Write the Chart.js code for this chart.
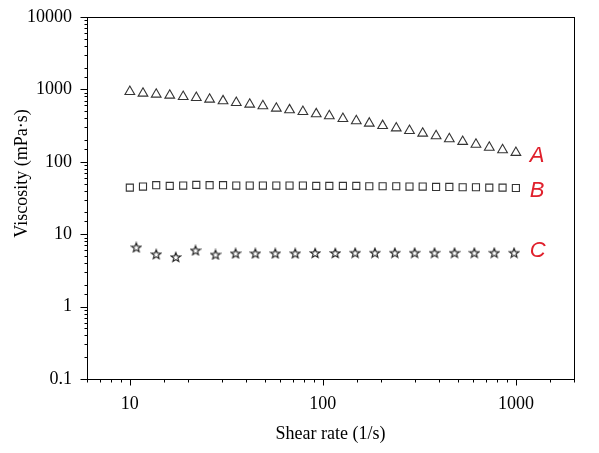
<!DOCTYPE html>
<html>
<head>
<meta charset="utf-8">
<script src="https://cdn.jsdelivr.net/npm/chart.js@4/dist/chart.umd.min.js"></script>
<style>
  html, body { margin: 0; padding: 0; background: #fff; }
  canvas { display: block; }
</style>
</head>
<body>
<canvas id="chart" width="599" height="453"></canvas>
<script>
// shear rate points for A and B (1/s)
const shearAB = [10, 11.7, 13.7, 16.1, 18.9, 22.1, 25.9, 30.4, 35.6, 41.8, 48.9, 57.4, 67.2, 78.8, 92.4,
    108, 127, 149, 174, 204, 240, 281, 329, 386, 452, 530, 621, 728, 853, 1000];
// shear rate points for C
const shearC = [10.8, 13.7, 17.3, 21.9, 27.8, 35.3, 44.7, 56.7, 71.9, 91.2,
    116, 147, 186, 236, 299, 379, 481, 609, 773, 979];

const viscA = [931, 882, 854, 828, 794, 769, 729, 692, 656, 622, 591, 547, 520, 493, 458,
    430, 394, 367, 340, 315, 292, 269, 247, 228, 207, 190, 174, 158, 146, 134];
const viscB = [44, 45.5, 47.5, 46.5, 47, 48, 47.5, 47.5, 47, 47, 47, 47, 47, 47, 46.5,
    46.5, 46.5, 46.5, 46, 46, 46, 45.5, 45.5, 45, 45, 44.5, 44.5, 44, 44, 43.5];
const viscC = [6.6, 5.3, 4.85, 6.0, 5.25, 5.45, 5.45, 5.45, 5.45, 5.5,
    5.5, 5.55, 5.55, 5.55, 5.55, 5.55, 5.55, 5.55, 5.55, 5.55];

const seriesNames = ['A', 'B', 'C'];
// where the series letters sit, in data units
const nameX = 1180;
const nameY = [125, 41.3, 6.1];

const xTickLabels = ['10', '100', '1000'];
const yTickLabels = ['0.1', '1', '10', '100', '1000', '10000'];

const serif = "'Liberation Serif', 'Times New Roman', serif";
const ink = '#333';

function isDecade(v) {
    const l = Math.log10(v);
    return Math.abs(l - Math.round(l)) < 1e-9;
}

function tickText(v, list) {
    if (!isDecade(v)) return '';
    const s = String(Number(v.toPrecision(6)));
    return list.includes(s) ? s : '';
}

function starImage() {
    const c = document.createElement('canvas');
    c.width = 12;
    c.height = 12;
    const g = c.getContext('2d');
    g.strokeStyle = '#222';
    g.lineWidth = 1.2;
    g.lineJoin = 'miter';
    g.beginPath();
    for (let i = 0; i < 10; i++) {
        const r = i % 2 === 0 ? 4.9 : 2.1;
        const a = -Math.PI / 2 + i * Math.PI / 5;
        const px = 6 + r * Math.cos(a);
        const py = 6.5 + r * Math.sin(a);
        if (i === 0) g.moveTo(px, py); else g.lineTo(px, py);
    }
    g.closePath();
    g.stroke();
    return c;
}

// frame, tick marks, y title and series letters
const decorations = {
    id: 'decorations',
    afterDraw(chart) {
        const ctx = chart.ctx;
        const xs = chart.scales.x, ys = chart.scales.y;
        const left = Math.round(chart.chartArea.left) + 0.5;
        const right = Math.round(chart.chartArea.right) + 0.5;
        const top = Math.round(chart.chartArea.top) + 0.5;
        const bottom = Math.round(chart.chartArea.bottom) + 0.5;
        ctx.save();
        ctx.strokeStyle = '#000';
        ctx.lineWidth = 1;
        ctx.strokeRect(left, top, right - left, bottom - top);

        ctx.beginPath();
        xs.ticks.forEach(t => {
            const px = Math.round(xs.getPixelForValue(t.value)) + 0.5;
            const len = isDecade(t.value) ? 6 : 3;
            ctx.moveTo(px, bottom);
            ctx.lineTo(px, bottom + len);
        });
        ys.ticks.forEach(t => {
            const py = Math.round(ys.getPixelForValue(t.value)) + 0.5;
            const len = isDecade(t.value) ? 7 : 3;
            ctx.moveTo(left, py);
            ctx.lineTo(left - len, py);
        });
        ctx.stroke();

        ctx.fillStyle = '#000';
        ctx.font = '18px ' + serif;
        ctx.textAlign = 'center';
        ctx.textBaseline = 'middle';
        ctx.translate(left - 65, (top + bottom) / 2 - 25);
        ctx.rotate(-Math.PI / 2);
        ctx.fillText('Viscosity (mPa·s)', 0, 0);
        ctx.restore();

        ctx.save();
        ctx.fillStyle = '#e0202c';
        ctx.font = "italic 22px 'Liberation Sans', Arial, sans-serif";
        ctx.textAlign = 'left';
        ctx.textBaseline = 'middle';
        seriesNames.forEach((n, i) => {
            ctx.fillText(n, xs.getPixelForValue(nameX), ys.getPixelForValue(nameY[i]) + 1);
        });
        ctx.restore();
    }
};

const toPoints = (xv, yv) => xv.map((x, i) => ({ x: x, y: yv[i] }));

new Chart(document.getElementById('chart'), {
    type: 'scatter',
    data: {
        datasets: [
            {
                label: 'A',
                data: toPoints(shearAB, viscA),
                pointStyle: 'triangle',
                pointRadius: 5.6,
                pointBorderWidth: 1.1,
                pointBorderColor: ink,
                pointBackgroundColor: 'rgba(0,0,0,0)'
            },
            {
                label: 'B',
                data: toPoints(shearAB, viscB),
                pointStyle: 'rect',
                pointRadius: 5,
                pointBorderWidth: 1.1,
                pointBorderColor: ink,
                pointBackgroundColor: 'rgba(0,0,0,0)'
            },
            {
                label: 'C',
                data: toPoints(shearC, viscC),
                pointStyle: starImage(),
                pointRadius: 5
            }
        ]
    },
    options: {
        responsive: false,
        animation: false,
        layout: { padding: { top: 17, right: 25, left: 0, bottom: 0 } },
        scales: {
            x: {
                type: 'logarithmic',
                min: 6,
                max: 2000,
                afterFit: s => { s.height = 74; },
                grid: { display: false, drawTicks: false, tickLength: 0 },
                border: { display: false },
                ticks: {
                    autoSkip: false,
                    maxRotation: 0,
                    padding: 14,
                    color: '#000',
                    font: { family: serif, size: 18 },
                    callback: v => tickText(v, xTickLabels)
                },
                title: {
                    display: true,
                    text: 'Shear rate (1/s)',
                    color: '#000',
                    font: { family: serif, size: 18 },
                    padding: { top: 0, bottom: 8 }
                }
            },
            y: {
                type: 'logarithmic',
                min: 0.1,
                max: 10000,
                afterFit: s => { s.width = 87; },
                // invisible tick marks only to hold the labels away from the axis
                grid: {
                    display: true,
                    drawOnChartArea: false,
                    drawTicks: true,
                    tickLength: 15,
                    color: 'rgba(0,0,0,0)'
                },
                border: { display: false },
                ticks: {
                    autoSkip: false,
                    padding: 0,
                    color: '#000',
                    font: { family: serif, size: 18 },
                    callback: v => tickText(v, yTickLabels)
                }
            }
        },
        plugins: {
            legend: { display: false },
            tooltip: { enabled: false }
        }
    },
    plugins: [decorations]
});
</script>
</body>
</html>
